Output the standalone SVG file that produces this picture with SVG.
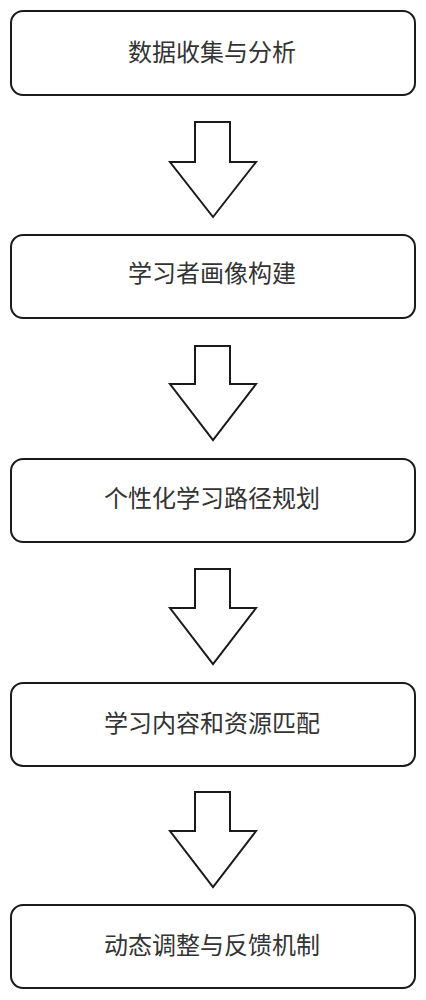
<svg xmlns="http://www.w3.org/2000/svg" width="426" height="1000" viewBox="0 0 426 1000">
<style>
.box{fill:#fff;stroke:#1a1a1a;stroke-width:2}
.arrow{fill:#fff;stroke:#1a1a1a;stroke-width:2;stroke-linejoin:miter}
.lbl{font-family:"Noto Sans CJK SC","Noto Sans",sans-serif;font-size:24px;fill:#333;text-anchor:middle}
</style>
<rect width="426" height="1000" fill="#fff"/>
<g id="connectors">
<path class="arrow" d="M195,122 H230 V162 H256 L213,217 L170,162 H195 Z"/>
<path class="arrow" d="M195,346 H230 V384 H256 L213,440 L170,384 H195 Z"/>
<path class="arrow" d="M195,569 H230 V608 H256 L213,664 L170,608 H195 Z"/>
<path class="arrow" d="M195,792 H230 V831 H256 L213,887 L170,831 H195 Z"/>
</g>
<g id="n1"><rect class="box" x="11" y="11" width="404" height="84" rx="12"/><text class="lbl" x="212" y="61">数据收集与分析</text></g>
<g id="n2"><rect class="box" x="11" y="235" width="404" height="83" rx="12"/><text class="lbl" x="212" y="282">学习者画像构建</text></g>
<g id="n3"><rect class="box" x="11" y="459" width="404" height="83" rx="12"/><text class="lbl" x="212" y="507">个性化学习路径规划</text></g>
<g id="n4"><rect class="box" x="11" y="683" width="404" height="83" rx="12"/><text class="lbl" x="212" y="732">学习内容和资源匹配</text></g>
<g id="n5"><rect class="box" x="11" y="905" width="404" height="83" rx="12"/><text class="lbl" x="212" y="954">动态调整与反馈机制</text></g>
</svg>
